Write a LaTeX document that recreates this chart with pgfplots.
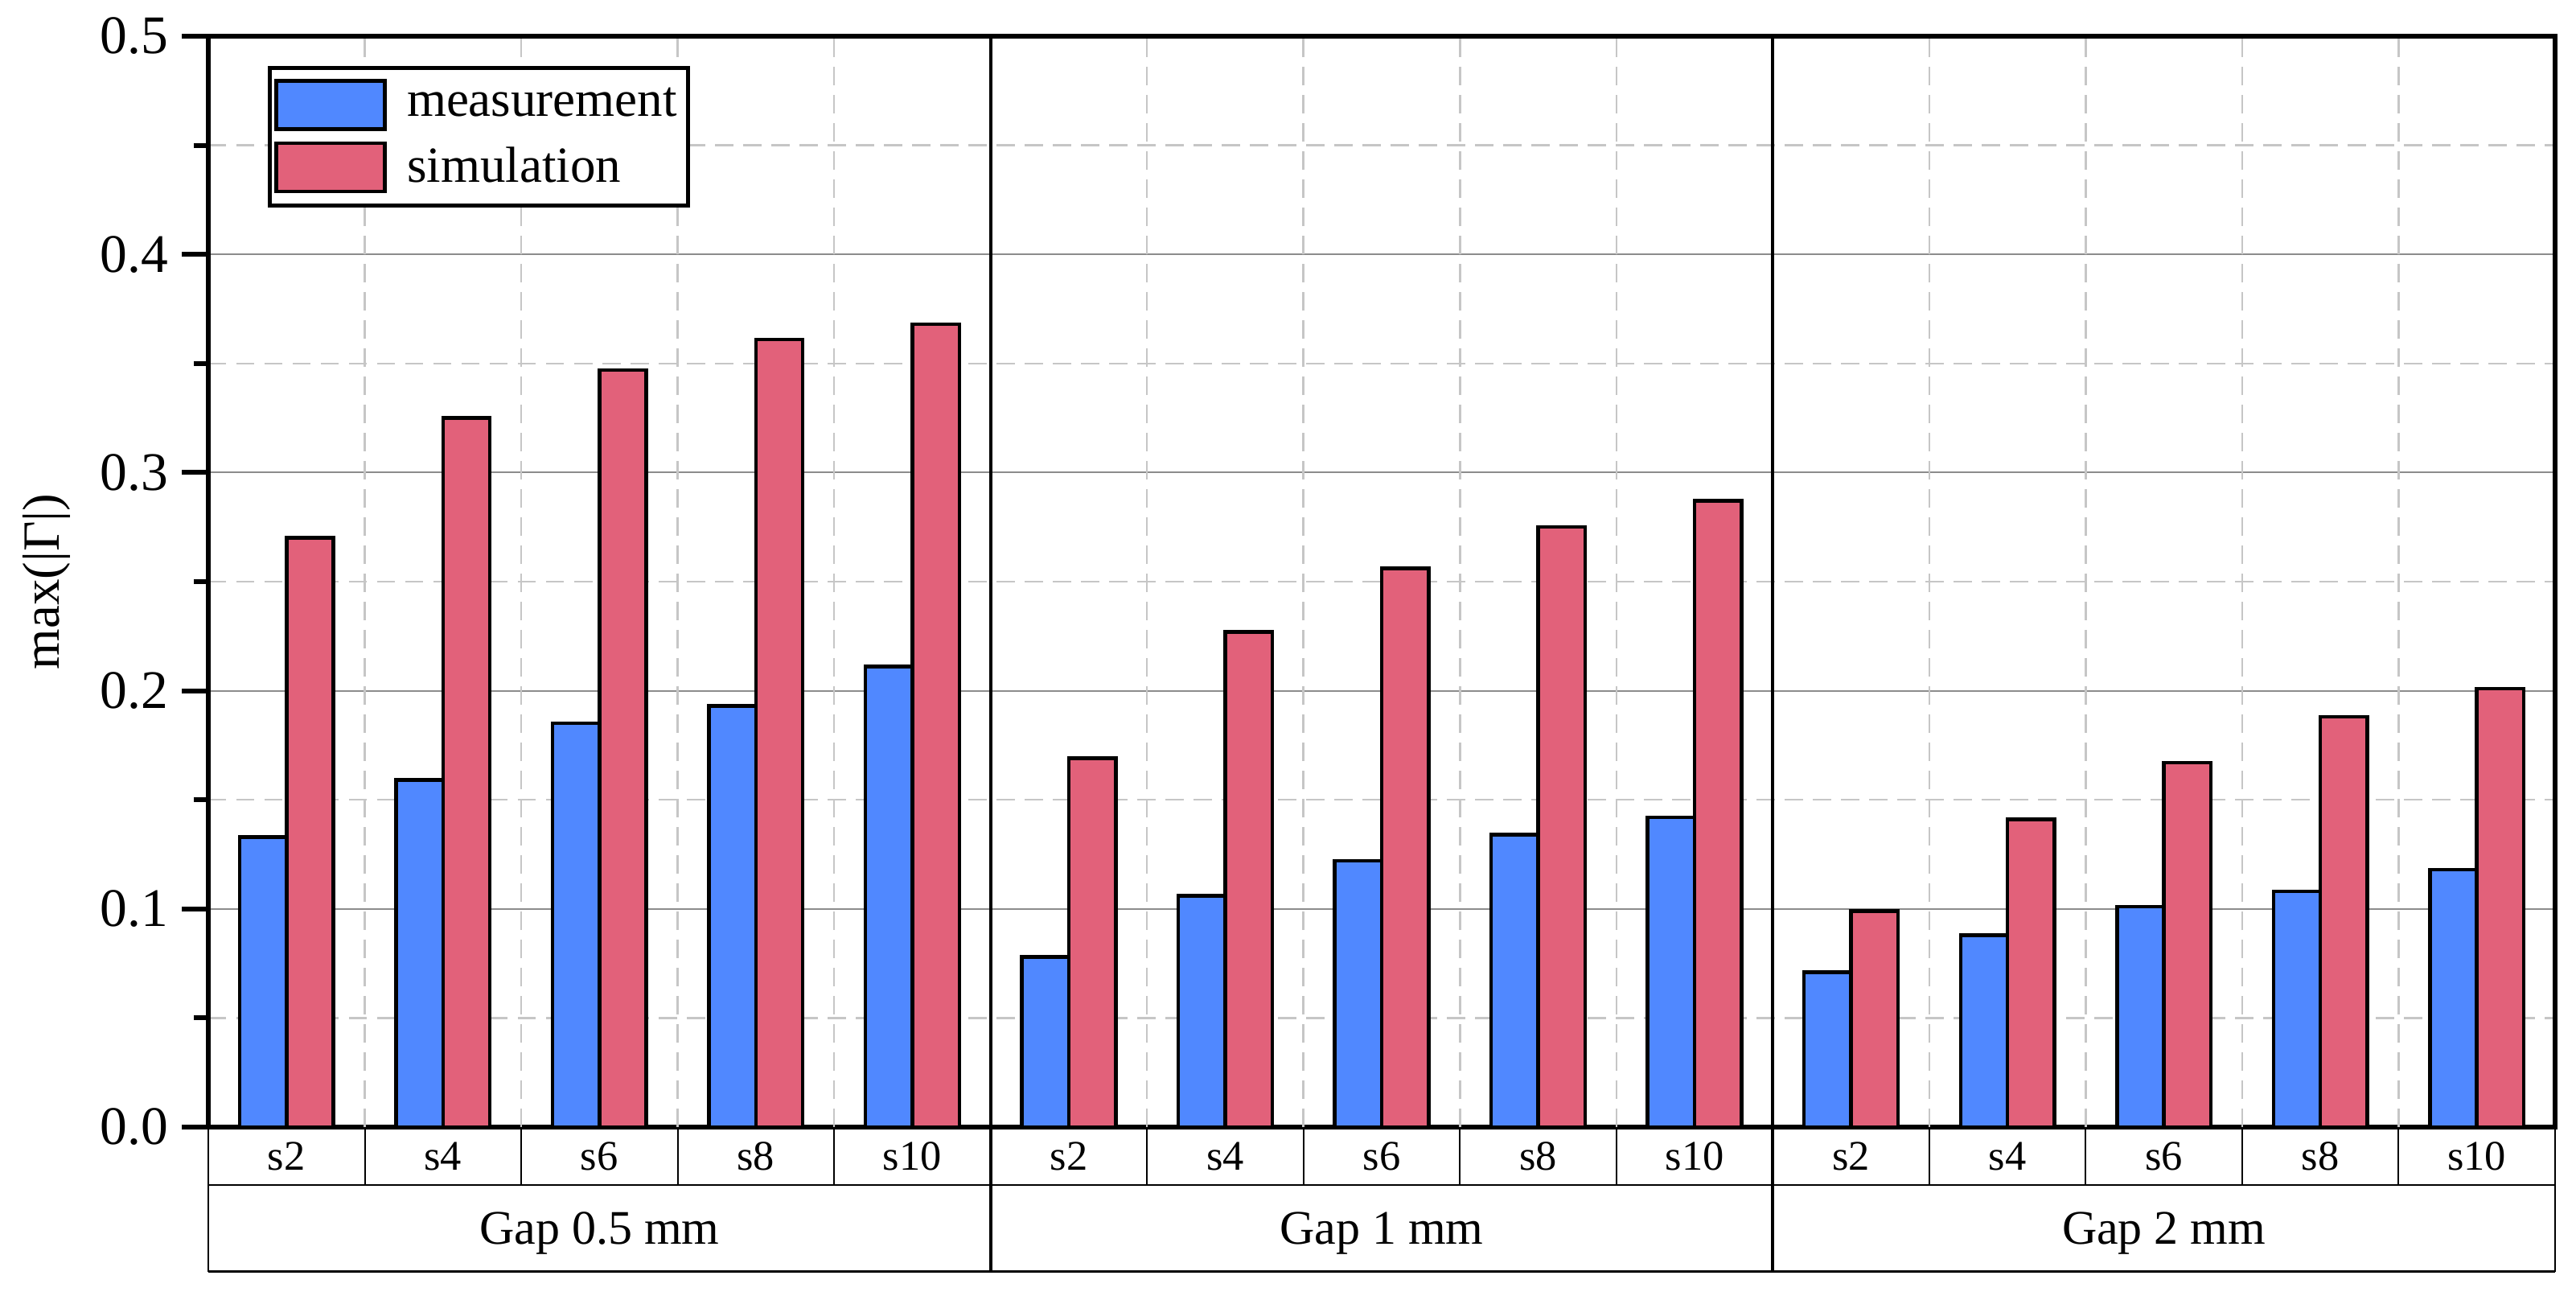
\documentclass[border=0pt]{standalone}
\usepackage{pgfplots}
\pgfplotsset{compat=1.18}
\usepackage{fontspec}
\setmainfont{Liberation Serif}

\definecolor{meas}{RGB}{80,136,255}
\definecolor{simu}{RGB}{226,97,122}

\begin{document}
\begin{tikzpicture}
\begin{axis}[
    scale only axis,
    width=583.6pt, height=271.2pt,
    xmin=-0.5, xmax=14.5,
    ymin=0, ymax=0.5,
    ybar=0pt, bar width=0.3,
    clip=false,
    axis line style={line width=1.1pt},
    tick align=outside,
    ytick pos=left,
    xtick=\empty,
    extra x ticks={0.5,1.5,2.5,3.5,5.5,6.5,7.5,8.5,10.5,11.5,12.5,13.5},
    extra x tick labels={},
    extra x tick style={grid=major, major tick length=0pt,
        major grid style={gray!45, line width=0.5pt, dash pattern=on 4.5pt off 2.5pt}},
    ytick={0,0.1,0.2,0.3,0.4,0.5},
    minor y tick num=1,
    ymajorgrids, yminorgrids,
    major grid style={gray!90, line width=0.4pt},
    minor grid style={gray!45, line width=0.5pt, dash pattern=on 4.5pt off 2.5pt},
    major tick length=6.5pt, minor tick length=3.6pt,
    every tick/.style={black, line width=1.2pt},
    yticklabel style={font=\fontsize{13.5}{15}\selectfont,
        /pgf/number format/.cd, fixed, fixed zerofill, precision=1, assume math mode=true},
    legend style={at={(rel axis cs:0,1)}, anchor=north west, xshift=14.8pt, yshift=-7.4pt,
        draw=black, line width=1pt, font=\fontsize{12.6}{15}\selectfont,
        inner xsep=1.2pt, inner ysep=2.8pt, row sep=2.4pt, column sep=3.5pt,
        nodes={inner sep=1.5pt}},
    legend cell align=left,
    legend image code/.code={\draw[#1, line width=0.9pt] (0pt,-6pt) rectangle (27pt,6pt);},
]
\addplot[fill=meas, draw=black, line width=0.9pt] coordinates {
    (0,0.133) (1,0.159) (2,0.185) (3,0.193) (4,0.211)
    (5,0.078) (6,0.106) (7,0.122) (8,0.134) (9,0.142)
    (10,0.071) (11,0.088) (12,0.101) (13,0.108) (14,0.118)
};
\addplot[fill=simu, draw=black, line width=0.9pt] coordinates {
    (0,0.270) (1,0.325) (2,0.347) (3,0.361) (4,0.368)
    (5,0.169) (6,0.227) (7,0.256) (8,0.275) (9,0.287)
    (10,0.099) (11,0.141) (12,0.167) (13,0.188) (14,0.201)
};
\legend{measurement, simulation}

% group separators, through the plot and the label rows
\draw[line width=0.8pt] ([yshift=-36pt]axis cs:4.5,0) -- (axis cs:4.5,0.5);
\draw[line width=0.8pt] ([yshift=-36pt]axis cs:9.5,0) -- (axis cs:9.5,0.5);

% label table below the axis
\draw[line width=0.5pt] ([yshift=-36pt]axis cs:-0.5,0) -- (axis cs:-0.5,0);
\draw[line width=0.5pt] ([yshift=-36pt]axis cs:14.5,0) -- (axis cs:14.5,0);
\draw[line width=0.5pt] ([yshift=-14.4pt]axis cs:-0.5,0) -- ([yshift=-14.4pt]axis cs:14.5,0);
\draw[line width=0.6pt] ([yshift=-36pt]axis cs:-0.5,0) -- ([yshift=-36pt]axis cs:14.5,0);
\pgfplotsinvokeforeach{0.5,1.5,2.5,3.5,5.5,6.5,7.5,8.5,10.5,11.5,12.5,13.5}{
    \draw[line width=0.4pt] ([yshift=-14.4pt]axis cs:#1,0) -- (axis cs:#1,0);
}
% category names
\pgfplotsinvokeforeach{0,5,10}{
    \node[anchor=base, font=\fontsize{10.5}{12}\selectfont] at ([yshift=-10.8pt]axis cs:#1,0) {s2};
    \node[anchor=base, font=\fontsize{10.5}{12}\selectfont] at ([yshift=-10.8pt]axis cs:#1+1,0) {s4};
    \node[anchor=base, font=\fontsize{10.5}{12}\selectfont] at ([yshift=-10.8pt]axis cs:#1+2,0) {s6};
    \node[anchor=base, font=\fontsize{10.5}{12}\selectfont] at ([yshift=-10.8pt]axis cs:#1+3,0) {s8};
    \node[anchor=base, font=\fontsize{10.5}{12}\selectfont] at ([yshift=-10.8pt]axis cs:#1+4,0) {s10};
}
\node[anchor=base, font=\fontsize{12}{14}\selectfont] at ([yshift=-29.2pt]axis cs:2,0) {Gap 0.5 mm};
\node[anchor=base, font=\fontsize{12}{14}\selectfont] at ([yshift=-29.2pt]axis cs:7,0) {Gap 1 mm};
\node[anchor=base, font=\fontsize{12}{14}\selectfont] at ([yshift=-29.2pt]axis cs:12,0) {Gap 2 mm};

% y label
\node[rotate=90, font=\fontsize{13}{15}\selectfont] at ([xshift=-40.2pt]rel axis cs:0,0.5) {max(|Γ|)};

% page size
\path ([shift={(-51.8pt,-41pt)}]rel axis cs:0,0) rectangle ([shift={(5.2pt,9pt)}]rel axis cs:1,1);
\end{axis}
\end{tikzpicture}
\end{document}
